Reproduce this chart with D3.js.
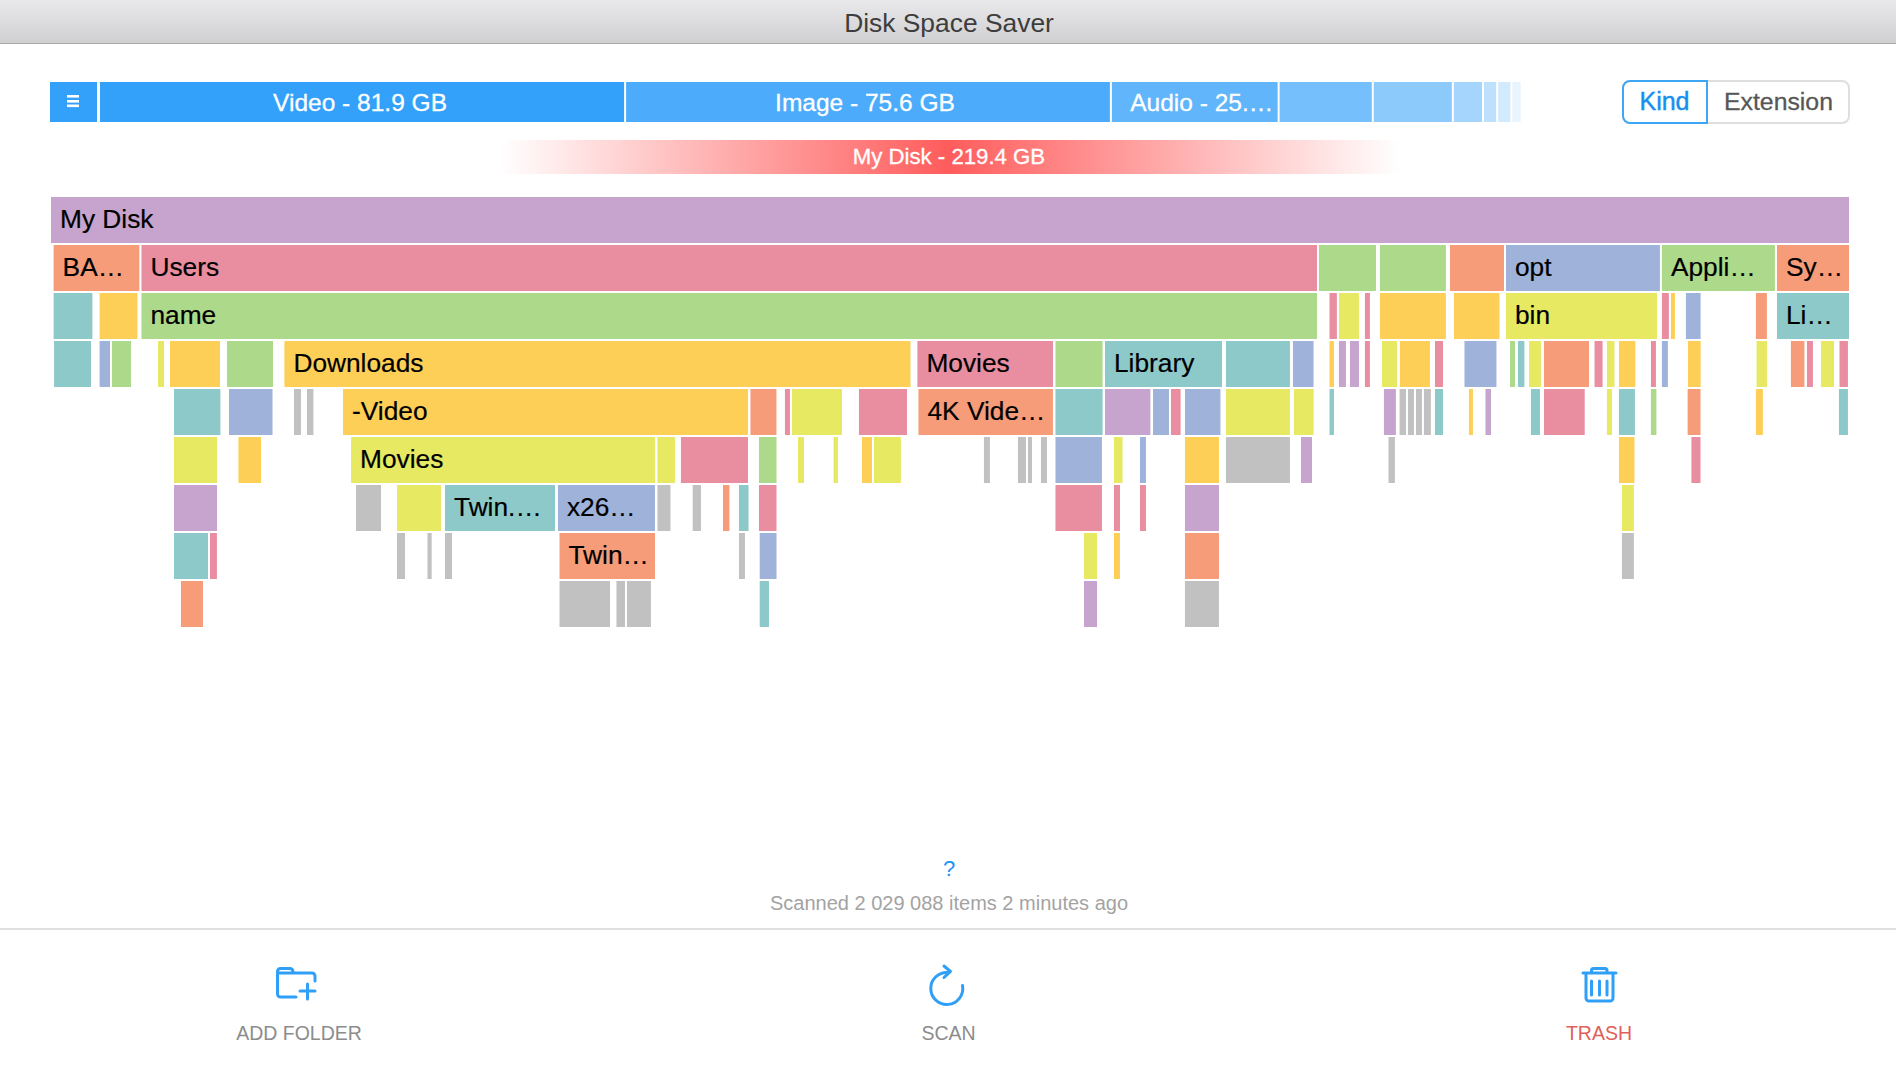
<!DOCTYPE html>
<html lang="en">
<head>
<meta charset="UTF-8">
<title>Disk Space Saver</title>
<script src="https://d3js.org/d3.v7.min.js"></script>
<style>
html, body { margin: 0; padding: 0; background: #fff; }
svg { display: block; font-family: "Liberation Sans", Arial, sans-serif; }
</style>
</head>
<body>
<svg id="app" width="1896" height="1080"></svg>
<script>
// totals by kind, in GB
var kindNames = ["Video - 81.9 GB", "Image - 75.6 GB", "Audio - 25.…", "", "", "", "", "", ""];
var kindSizes = [81.9, 75.6, 25.9, 14.4, 12.2, 4.4, 1.9, 1.9, 1.3];
var kindShades = [1, 0.88, 0.78, 0.68, 0.56, 0.44, 0.32, 0.22, 0.11];
var diskName = "My Disk - 219.4 GB";
var diskTotal = 219.4;

// flame rows: [start GB, size GB, group, label]
var level0 = [[0, 219.4, "P", "My Disk"]];
var level1 = [
  [0.32, 10.46, "O", "BA…"], [11.04, 143.44, "R", "Users"], [154.72, 6.96, "G"], [162.16, 8.05, "G"],
  [170.71, 6.59, "O"], [177.54, 18.79, "B", "opt"], [196.57, 13.79, "G", "Appli…"], [210.61, 8.79, "O", "Sy…"]
];
var level2 = [
  [0.32, 4.73, "T"], [5.93, 4.62, "Y"], [11.04, 143.44, "G", "name"], [156.01, 0.9, "R"], [157.16, 2.44, "L"],
  [160.33, 0.61, "R"], [162.16, 8.05, "Y"], [171.19, 5.56, "Y"], [177.54, 18.43, "L", "bin"], [196.57, 0.85, "R"],
  [197.67, 0.49, "Y"], [199.5, 1.79, "B"], [208.04, 1.34, "O"], [210.61, 8.79, "T", "Li…"]
];
var level3 = [
  [0.37, 4.51, "T"], [5.93, 1.27, "B"], [7.44, 2.32, "G"], [13.06, 0.73, "L"], [14.52, 6.1, "Y"], [21.48, 5.61, "G"],
  [28.48, 76.4, "Y", "Downloads"], [105.72, 16.55, "R", "Movies"], [122.57, 5.75, "G"], [128.61, 14.28, "T", "Library"],
  [143.37, 7.81, "T"], [151.55, 2.51, "B"], [156.01, 0.54, "Y"], [157.16, 0.85, "P"], [158.5, 1.1, "P"], [160.33, 0.61, "R"],
  [162.41, 1.83, "L"], [164.6, 3.66, "Y"], [168.88, 0.98, "R"], [172.48, 3.9, "B"], [178.03, 0.61, "G"], [179, 0.79, "T"],
  [180.35, 1.46, "L"], [182.18, 5.49, "O"], [188.35, 0.98, "R"], [189.86, 0.92, "L"], [191.33, 2, "Y"], [195.23, 0.61, "R"],
  [196.57, 0.73, "B"], [199.75, 1.55, "Y"], [208.12, 1.27, "L"], [212.31, 1.65, "O"], [214.27, 0.73, "R"], [215.98, 1.59, "L"],
  [218.24, 1.03, "R"]
];
var level4 = [
  [15.01, 5.66, "T"], [21.72, 5.31, "B"], [29.65, 0.85, "X"], [31.24, 0.78, "X"], [35.63, 49.42, "Y", "-Video"], [85.35, 3.17, "O"],
  [89.56, 0.61, "R"], [90.42, 6.1, "L"], [98.59, 5.86, "R"], [105.85, 16.41, "O", "4K Vide…"], [122.57, 5.75, "T"], [128.61, 5.54, "P"],
  [134.47, 1.95, "B"], [136.66, 1.18, "R"], [138.37, 4.33, "B"], [143.37, 7.81, "L"], [151.67, 2.4, "L"], [156.01, 0.54, "T"],
  [162.65, 1.46, "P"], [164.56, 0.78, "X"], [165.58, 0.73, "X"], [166.56, 0.73, "X"], [167.53, 0.85, "X"], [168.88, 0.98, "T"],
  [173.02, 0.49, "Y"], [175.04, 0.67, "P"], [180.59, 1.1, "T"], [182.18, 4.97, "R"], [189.86, 0.61, "L"], [191.33, 1.95, "T"],
  [195.23, 0.67, "G"], [199.71, 1.57, "O"], [208.04, 0.85, "Y"], [218.17, 1.1, "T"]
];
var level5 = [
  [15.01, 5.25, "L"], [22.87, 2.76, "Y"], [36.61, 37.09, "L", "Movies"], [74, 2.14, "L"], [76.87, 8.18, "R"], [86.39, 2.14, "G"],
  [91.15, 0.73, "L"], [95.49, 0.54, "L"], [98.96, 1.22, "Y"], [100.42, 3.29, "L"], [113.84, 0.73, "X"], [117.99, 0.98, "X"],
  [119.21, 0.49, "X"], [120.8, 0.73, "X"], [122.57, 5.67, "B"], [129.71, 1.04, "L"], [132.88, 0.73, "B"], [138.37, 4.15, "Y"],
  [143.37, 7.81, "X"], [152.53, 1.34, "P"], [163.21, 0.78, "X"], [191.33, 1.89, "Y"], [200.17, 1.11, "R"]
];
var level6 = [
  [15.01, 5.25, "P"], [37.22, 3.05, "X"], [42.22, 5.37, "L"], [48.08, 13.42, "T", "Twin.…"], [61.86, 11.84, "B", "x26…"], [74, 1.59, "X"],
  [78.3, 1.01, "X"], [82, 0.78, "O"], [83.95, 1.17, "T"], [86.39, 2.14, "R"], [122.57, 5.67, "R"], [129.71, 0.73, "R"],
  [132.88, 0.73, "R"], [138.37, 4.15, "P"], [191.69, 1.46, "L"]
];
var level7 = [
  [15.01, 4.15, "T"], [19.4, 0.85, "R"], [42.22, 0.98, "X"], [45.94, 0.51, "X"], [48.08, 0.85, "X"], [62.05, 11.65, "O", "Twin…"],
  [83.95, 0.73, "X"], [86.48, 2.05, "B"], [126.05, 1.59, "L"], [129.71, 0.73, "Y"], [138.37, 4.15, "O"], [191.69, 1.46, "X"]
];
var level8 = [
  [15.86, 2.68, "O"], [62.05, 6.16, "X"], [69, 1.04, "X"], [70.28, 2.93, "X"], [86.48, 1.13, "T"], [126.05, 1.59, "P"], [138.37, 4.15, "X"]
];
var levels = [level0, level1, level2, level3, level4, level5, level6, level7, level8];

var footerNote = "Scanned 2 029 088 items 2 minutes ago";
var actionNames = ["ADD FOLDER", "SCAN", "TRASH"];
var toggleNames = ["Kind", "Extension"];

var blue = "#2f9ff8";
var svg = d3.select("#app");
var defs = svg.append("defs");

// title bar
var titleGrad = defs.append("linearGradient").attr("id", "titleGrad").attr("x2", 0).attr("y2", 1);
titleGrad.append("stop").attr("offset", 0).attr("stop-color", "#e9e8ea");
titleGrad.append("stop").attr("offset", 1).attr("stop-color", "#d0cfd1");
svg.append("rect").attr("width", 1896).attr("height", 43).attr("fill", "url(#titleGrad)");
svg.append("rect").attr("y", 43).attr("width", 1896).attr("height", 1).attr("fill", "#a9a9a9");
svg.append("text").attr("x", 949).attr("y", 32).attr("text-anchor", "middle")
  .attr("font-size", 26.4).attr("fill", "#3d3d3d").text("Disk Space Saver");

// kind bar
var kindX = d3.scaleLinear().domain([0, diskTotal]).range([100, 1504]);
var kindGap = 2;
var kindLabelShift = [-2, -3, 7, 0, 0, 0, 0, 0, 0]; // labels sit a bit off centre
var kindRows = kindSizes.map(function(size, i) {
  return { size: size, start: d3.sum(kindSizes.slice(0, i)), name: kindNames[i], shade: kindShades[i], i: i };
});
svg.append("rect").attr("x", 50).attr("y", 82).attr("width", 47).attr("height", 40).attr("fill", "#33a0fa");
[96.5, 101.5, 106].forEach(function(y) {
  svg.append("rect").attr("x", 67).attr("y", y - 1.5).attr("width", 12).attr("height", 2.6).attr("fill", "#fff");
});
var kinds = svg.append("g").selectAll("g").data(kindRows).enter().append("g");
kinds.append("rect")
  .attr("x", function(d) { return kindX(d.start) + d.i * kindGap; })
  .attr("y", 82)
  .attr("width", function(d) { return kindX(d.size) - kindX(0); })
  .attr("height", 40)
  .attr("fill", "#33a0fa")
  .attr("fill-opacity", function(d) { return d.shade; });
kinds.append("text")
  .attr("x", function(d) { return kindX(d.start + d.size / 2) + d.i * kindGap + kindLabelShift[d.i]; })
  .attr("y", 110.5)
  .attr("text-anchor", "middle")
  .attr("font-size", 24.5)
  .attr("fill", "#fff")
  .attr("stroke", "#fff")
  .attr("stroke-width", 0.3)
  .text(function(d) { return d.name; });

// toggle
var toggle = svg.append("g");
toggle.append("rect").attr("x", 1623).attr("y", 81).attr("width", 226).attr("height", 42).attr("rx", 7)
  .attr("fill", "#fff").attr("stroke", "#dedede").attr("stroke-width", 2);
toggle.append("path").attr("d", "M1707,81H1630a7,7 0 0 0 -7,7V116a7,7 0 0 0 7,7H1707Z")
  .attr("fill", "#fff").attr("stroke", "#3fa6f5").attr("stroke-width", 2);
toggle.append("text").attr("x", 1664.5).attr("y", 110).attr("text-anchor", "middle")
  .attr("font-size", 25).attr("fill", "#158ff0").attr("stroke", "#158ff0").attr("stroke-width", 0.4).text(toggleNames[0]);
toggle.append("text").attr("x", 1778.5).attr("y", 110).attr("text-anchor", "middle")
  .attr("font-size", 24.8).attr("fill", "#575757").attr("stroke", "#575757").attr("stroke-width", 0.3).text(toggleNames[1]);

// disk total bar
var diskGrad = defs.append("linearGradient").attr("id", "diskGrad");
diskGrad.append("stop").attr("offset", 0).attr("stop-color", "#ff5c5c").attr("stop-opacity", 0);
diskGrad.append("stop").attr("offset", 0.498).attr("stop-color", "#ff5c5c");
diskGrad.append("stop").attr("offset", 1).attr("stop-color", "#ff5c5c").attr("stop-opacity", 0);
svg.append("rect").attr("x", 500).attr("y", 140).attr("width", 900).attr("height", 34).attr("fill", "url(#diskGrad)");
svg.append("text").attr("x", 949).attr("y", 163.5).attr("text-anchor", "middle")
  .attr("font-size", 22.2).attr("fill", "#fff").attr("stroke", "#fff").attr("stroke-width", 0.3).text(diskName);

// flame chart
var x = d3.scaleLinear().domain([0, diskTotal]).range([51, 1849]);
var y = d3.scaleBand().domain(d3.range(9)).range([197, 197 + 48 * 9 - 2]).paddingInner(2 / 48).paddingOuter(0).align(0);
var color = d3.scaleOrdinal()
  .domain(["P", "R", "O", "G", "T", "Y", "L", "B", "X"])
  .range(["#c6a4cd", "#e98ea1", "#f79c78", "#add98a", "#8dc9c9", "#fecf57", "#e6e961", "#9fb3da", "#c1c1c1"]);

var rows = svg.append("g").selectAll("g").data(levels).enter().append("g")
  .attr("transform", function(d, i) { return "translate(0," + y(i) + ")"; });
var blocks = rows.selectAll("g").data(function(d) { return d; }).enter().append("g");
blocks.append("rect")
  .attr("x", function(d) { return x(d[0]); })
  .attr("width", function(d) { return x(d[1]) - x(0); })
  .attr("height", y.bandwidth())
  .attr("fill", function(d) { return color(d[2]); });
blocks.filter(function(d) { return d[3]; }).append("text")
  .attr("x", function(d) { return x(d[0]) + 9; })
  .attr("y", 31)
  .attr("font-size", 26.3)
  .attr("fill", "#000")
  .attr("stroke", "#000")
  .attr("stroke-width", 0.2)
  .text(function(d) { return d[3]; });

// footer
svg.append("text").attr("x", 949).attr("y", 876).attr("text-anchor", "middle")
  .attr("font-size", 22).attr("fill", "#1f93f0").text("?");
svg.append("text").attr("x", 949).attr("y", 910).attr("text-anchor", "middle")
  .attr("font-size", 20).attr("fill", "#a3a3a3").text(footerNote);
svg.append("rect").attr("y", 928).attr("width", 1896).attr("height", 2).attr("fill", "#e0e0e0");

// actions
var actionX = [299, 948.5, 1599];
var actionColor = ["#8c8c8c", "#8c8c8c", "#e0605a"];
actionNames.forEach(function(name, i) {
  svg.append("text").attr("x", actionX[i]).attr("y", 1040).attr("text-anchor", "middle")
    .attr("font-size", 19.5).attr("fill", actionColor[i]).text(name);
});
var icons = svg.append("g").attr("fill", "none").attr("stroke", blue).attr("stroke-width", 3)
  .attr("stroke-linecap", "round").attr("stroke-linejoin", "round");
icons.append("path").attr("d", "M296,997H280.5a3,3 0 0 1 -3,-3V971.5a3,3 0 0 1 3,-3H290a3,3 0 0 1 3,3V973H312a3,3 0 0 1 3,3V981M278,973H293M300,991H315M307.5,984V999");
icons.append("path").attr("d", "M962.5,985.5A16,16 0 1 1 948,972.5M944,966L950.5,971.5L944,977.5");
icons.append("path").attr("d", "M1583,973H1616M1591.5,973V970.5a2,2 0 0 1 2,-2H1605a2,2 0 0 1 2,2V973M1586,973V998a3,3 0 0 0 3,3H1610a3,3 0 0 0 3,-3V973M1591.5,981V995M1599.5,981V995M1607,981V995");
</script>
</body>
</html>
